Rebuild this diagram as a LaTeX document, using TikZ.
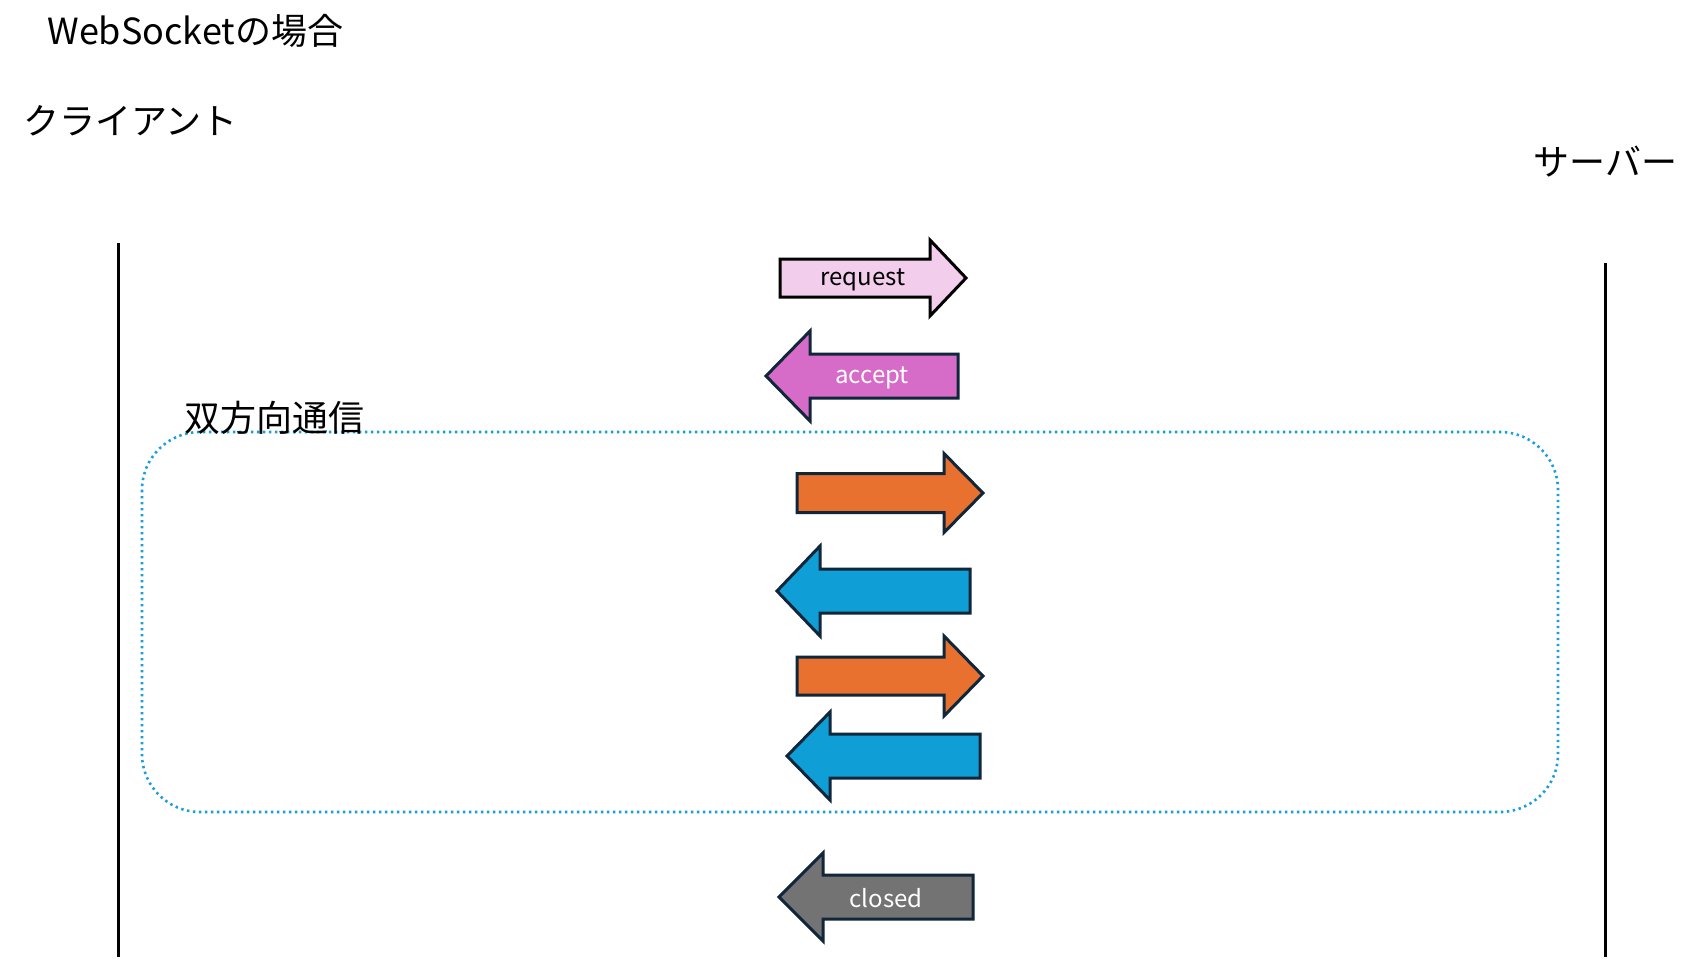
\documentclass[tikz,border=0pt]{standalone}
\usepackage{fontspec}
\setmainfont{Noto Sans CJK JP}
\definecolor{reqpink}{HTML}{F2CDEC}
\definecolor{accpink}{HTML}{D66CC8}
\definecolor{sendorange}{HTML}{E87130}
\definecolor{recvblue}{HTML}{0F9FD6}
\definecolor{closegrey}{HTML}{737373}
\definecolor{navy}{HTML}{10263A}
\definecolor{dotblue}{HTML}{1A9FD8}
\tikzset{
  lifeline/.style={line width=1.5pt, black},
  arrowshape/.style={line width=1.5pt, draw=navy, line join=miter},
  title/.style={font=\fontsize{18pt}{21pt}\selectfont, inner sep=0pt, anchor=base west},
  lbl/.style={font=\fontsize{12pt}{14pt}\selectfont, inner sep=0pt},
  session/.style={draw=dotblue, line width=1.3pt, dash pattern=on 1.2pt off 1.8pt, rounded corners=29pt}
}
% right-pointing arrow: left, headbase, tip, cy, body half, head half
\newcommand\myRArrow[7]{%
  \draw[arrowshape,#1] (#2,#5-#6) -- (#3,#5-#6) -- (#3,#5-#7) -- (#4,#5) -- (#3,#5+#7) -- (#3,#5+#6) -- (#2,#5+#6) -- cycle;}
% left-pointing arrow: right, headbase, tip, cy, body half, head half
\newcommand\myLArrow[7]{%
  \draw[arrowshape,#1] (#2,#5-#6) -- (#3,#5-#6) -- (#3,#5-#7) -- (#4,#5) -- (#3,#5+#7) -- (#3,#5+#6) -- (#2,#5+#6) -- cycle;}
\begin{document}
\begin{tikzpicture}[x=0.5pt,y=-0.5pt]
\useasboundingbox[fill=white] (0,0) rectangle (1698,960);
% titles
\node[title] (ttl) at (47,44) {WebSocketの場合};
\node[title] (cli) at (23,134) {クライアント};
\node[title] (srv) at (1533,175) {サーバー};
% lifelines
\coordinate (cTop) at (118,243);
\coordinate (cBot) at (118,957);
\coordinate (sTop) at (1605,263);
\coordinate (sBot) at (1605,957);
\draw[lifeline] (cTop) -- (cBot);
\draw[lifeline] (sTop) -- (sBot);
% session box
\draw[session] (142,432) rectangle (1558,812);
\node[title] (bidi) at (184,431) {双方向通信};
% arrows
\myRArrow{fill=reqpink,draw=black}{780}{930}{966}{278}{19}{38}
\node[lbl] (req) at (863,280) {request};
\myLArrow{fill=accpink}{958}{810}{766}{376}{22}{45}
\node[lbl, white] (acc) at (872,378) {accept};
\myRArrow{fill=sendorange}{797}{944}{983}{493}{19.5}{39.5}
\myLArrow{fill=recvblue}{970}{820}{777}{591}{22}{45}
\myRArrow{fill=sendorange}{797}{944}{983}{676}{19}{40}
\myLArrow{fill=recvblue}{980}{830}{787}{756}{22}{44}
\myLArrow{fill=closegrey}{973}{823}{779}{897}{22}{44}
\node[lbl, white] (cls) at (886,898) {closed};
\end{tikzpicture}
\end{document}
